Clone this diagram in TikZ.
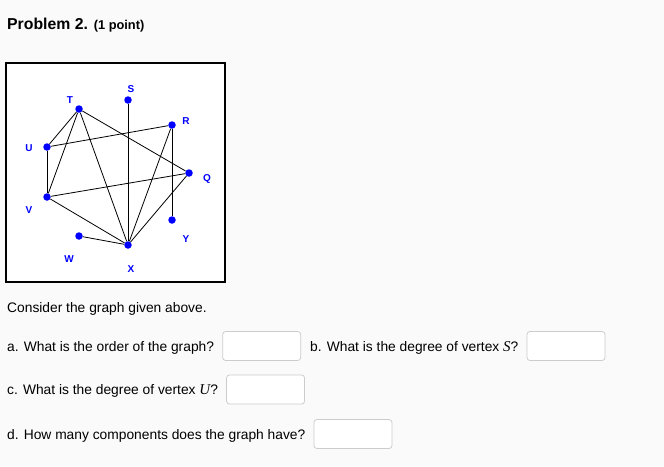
\documentclass[tikz,border=0pt]{standalone}
\usepackage{fontspec}
\setmainfont{Liberation Sans}
\newfontfamily\serifit{Liberation Serif}
\usepackage{xcolor}
\usetikzlibrary{positioning}
\definecolor{pagebg}{RGB}{250,250,250}
\definecolor{vblue}{RGB}{0,0,255}
\definecolor{boxgray}{RGB}{204,204,204}

\begin{document}
\begin{tikzpicture}[x=1pt,y=-1pt]
\tikzset{vertex/.style={circle,fill=vblue,inner sep=0pt,minimum size=7.5pt}}
\tikzset{vlabel/.style={text=vblue,font=\bfseries\fontsize{10}{10}\selectfont,inner sep=0pt}}
\tikzset{edge/.style={line width=0.8pt}}
\tikzset{question/.style={anchor=base west,inner sep=0pt,text height=10pt,text depth=3pt,font=\fontsize{13.8}{16}\selectfont}}
\tikzset{answerbox/.style={draw=boxgray,fill=white,rounded corners=3pt,line width=0.8pt,minimum width=78pt,minimum height=29pt,inner sep=0pt,yshift=1.5pt}}
\fill[pagebg] (0,0) rectangle (664,466);
\useasboundingbox (0,0) rectangle (664,466);
\node[anchor=base west,inner sep=0pt,font=\bfseries\fontsize{15.8}{18}\selectfont](title) at (7,29.5){Problem 2. {\fontsize{12.8}{14}\selectfont (1 point)}};
\draw[line width=1.2pt,fill=white] (6,63) rectangle (225,282);
% vertices
\node[vertex](T) at (79,109){};
\node[vertex](S) at (128,100){};
\node[vertex](R) at (172,125){};
\node[vertex](U) at (47,147){};
\node[vertex](Q) at (189,173){};
\node[vertex](V) at (47,197){};
\node[vertex](Y) at (172,220){};
\node[vertex](W) at (79,236){};
\node[vertex](X) at (128,245){};
% labels
\node[vlabel](lT) at (70,100){T};
\node[vlabel](lS) at (131,89){S};
\node[vlabel](lR) at (186,121){R};
\node[vlabel](lU) at (29,148){U};
\node[vlabel](lQ) at (207,179){Q};
\node[vlabel](lV) at (29,210){V};
\node[vlabel](lY) at (186,239){Y};
\node[vlabel](lW) at (69,259){W};
\node[vlabel](lX) at (131,269){X};
% edges
\draw[edge](T) -- (U);
\draw[edge](T) -- (V);
\draw[edge](T) -- (X);
\draw[edge](T) -- (Q);
\draw[edge](U) -- (R);
\draw[edge](U) -- (V);
\draw[edge](V) -- (Q);
\draw[edge](V) -- (X);
\draw[edge](R) -- (X);
\draw[edge](R) -- (Y);
\draw[edge](Q) -- (X);
\draw[edge](W) -- (X);
\draw[edge](S) -- (X);
% questions
\node[question](intro) at (7,312){Consider the graph given above.};
\node[question](qa) at (7,351){a. What is the order of the graph?};
\node[answerbox](ba)[right=8pt of qa]{};
\node[question](qb) at (310,351){b. What is the degree of vertex {\serifit\itshape\fontsize{15}{16}\selectfont S}?};
\node[answerbox](bb)[right=8pt of qb]{};
\node[question](qc) at (7,394.5){c. What is the degree of vertex {\serifit\itshape\fontsize{15}{16}\selectfont U}?};
\node[answerbox](bc)[right=8pt of qc]{};
\node[question](qd) at (7,439){d. How many components does the graph have?};
\node[answerbox](bd)[right=8pt of qd]{};
\end{tikzpicture}
\end{document}
